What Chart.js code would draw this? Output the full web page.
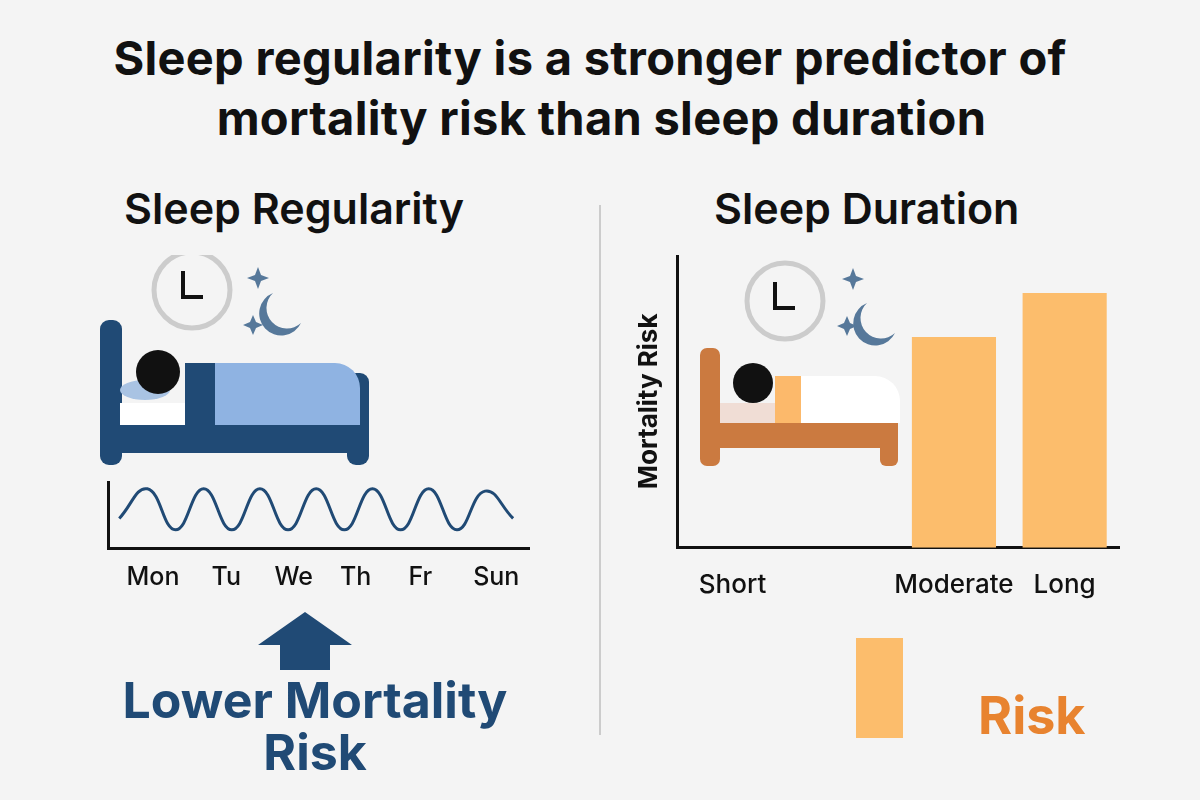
<!DOCTYPE html>
<html>
<head>
<meta charset="utf-8">
<script src="https://cdn.jsdelivr.net/npm/chart.js@4.4.1/dist/chart.umd.min.js"></script>
<style>
  body { margin:0; width:1200px; height:800px; background:#f4f4f4; font-family:'Inter','Roboto',sans-serif; position:relative; overflow:hidden; }
  .abs { position:absolute; }
  h1 { position:absolute; top:28px; left:0; width:1180px; margin:0; text-align:center; font-size:47px; font-weight:700; line-height:60px; color:#111; letter-spacing:0.3px; }
  h2 { position:absolute; margin:0; font-size:43px; font-weight:600; color:#111; }
</style>
</head>
<body>
<h1>Sleep regularity is a stronger predictor of<br>&nbsp;&nbsp;mortality risk than sleep duration</h1>
<h2 style="left:124px;top:182px">Sleep Regularity</h2>
<h2 style="left:714px;top:182px">Sleep Duration</h2>
<div class="abs" style="left:599px;top:205px;width:2px;height:530px;background:#ccc"></div>

<!-- left icons -->
<svg class="abs" style="left:95px;top:255px" width="310" height="215">
  <circle cx="97" cy="35" r="38" fill="#f4f4f4" stroke="#ccc" stroke-width="5"/>
  <path d="M88 16 V42 H108" stroke="#111" stroke-width="4" fill="none"/>
  <path d="M178 38 a22 22 0 1 0 28 30 a18 18 0 1 1 -28 -30z" fill="#56789a"/>
  <path d="M163 12 l3 8 8 3 -8 3 -3 8 -3 -8 -8 -3 8 -3z" fill="#56789a"/>
  <path d="M158 60 l3 7 7 3 -7 3 -3 7 -3 -7 -7 -3 7 -3z" fill="#56789a"/>
  <rect x="5" y="65" width="22" height="145" rx="9" fill="#204a75"/>
  <rect x="252" y="118" width="22" height="92" rx="9" fill="#204a75"/>
  <rect x="5" y="168" width="268" height="30" fill="#204a75"/>
  <rect x="90" y="108" width="30" height="62" fill="#204a75"/>
  <path d="M120 108 H240 a25 25 0 0 1 25 25 V170 H120z" fill="#8fb3e2"/>
  <rect x="25" y="148" width="65" height="22" fill="#fff"/>
  <ellipse cx="50" cy="135" rx="25" ry="10" fill="#a9c3e3"/>
  <circle cx="63" cy="117" r="22" fill="#111"/>
</svg>
<div class="abs" style="left:100px;top:478px;width:430px;height:120px"><canvas id="wave"></canvas></div>

<svg class="abs" style="left:258px;top:610px" width="95" height="60">
  <path d="M47 2 L94 35 H72 V60 H22 V35 H0z" fill="#204a75"/>
</svg>
<div class="abs" style="left:90px;top:674px;width:450px;text-align:center;font-size:50px;font-weight:700;color:#204a75;line-height:52px">Lower Mortality<br>Risk</div>

<!-- right chart -->
<div class="abs" style="left:630px;top:255px;width:490px;height:360px"><canvas id="bars"></canvas></div>
<svg class="abs" style="left:695px;top:258px" width="215" height="210">
  <circle cx="90" cy="43" r="38" fill="#f4f4f4" stroke="#ccc" stroke-width="5"/>
  <path d="M80 24 V50 H100" stroke="#111" stroke-width="4" fill="none"/>
  <path d="M172 45 a22 22 0 1 0 28 30 a18 18 0 1 1 -28 -30z" fill="#56789a"/>
  <path d="M158 10 l3 8 8 3 -8 3 -3 8 -3 -8 -8 -3 8 -3z" fill="#56789a"/>
  <path d="M152 58 l3 7 7 3 -7 3 -3 7 -3 -7 -7 -3 7 -3z" fill="#56789a"/>
  <rect x="5" y="90" width="20" height="118" rx="7" fill="#cb7a40"/>
  <rect x="185" y="155" width="18" height="53" rx="6" fill="#cb7a40"/>
  <rect x="5" y="165" width="198" height="25" fill="#cb7a40"/>
  <path d="M80 118 H180 a25 25 0 0 1 25 25 V165 H80z" fill="#fff"/>
  <rect x="80" y="118" width="26" height="47" fill="#fcb96b"/>
  <rect x="25" y="145" width="55" height="20" fill="#f0ddd5"/>
  <circle cx="58" cy="125" r="20" fill="#111"/>
</svg>
<div class="abs" style="left:856px;top:638px;width:47px;height:100px;background:#fcbd6c"></div>
<div class="abs" style="left:978px;top:684px;font-size:52px;font-weight:700;color:#e8832f">Risk</div>

<script>
// wave over the week
const waveX = [0, 0.5, 1, 1.5, 2, 2.5, 3, 3.5, 4, 4.5, 5, 5.5, 6, 6.5, 7];
const waveY = [0.3, 0.95, 0.05, 0.95, 0.05, 0.95, 0.05, 0.95, 0.05, 0.95, 0.05, 0.95, 0.05, 0.9, 0.3];
const dayTicks = [0.6, 1.9, 3.1, 4.2, 5.35, 6.7];
const dayLabels = ['Mon', 'Tu', 'We', 'Th', 'Fr', 'Sun'];

// duration chart
const durCats = ['Short', '', 'Moderate', 'Long'];
const durRisk = [0, 0, 72, 87];

new Chart(document.getElementById('wave'), {
    type: 'line',
    data: { datasets: [{ data: waveX.map((x, i) => ({ x: x, y: waveY[i] })),
        borderColor: '#204a75', borderWidth: 3, tension: 0.45, pointRadius: 0, fill: false }] },
    options: {
        responsive: true, maintainAspectRatio: false, animation: false,
        layout: { padding: { left: 0, right: 0, top: 4 } },
        plugins: { legend: { display: false }, tooltip: { enabled: false } },
        scales: {
            x: { type: 'linear', min: -0.2, max: 7.3,
                afterBuildTicks: ax => { ax.ticks = dayTicks.map(v => ({ value: v })); },
                ticks: { callback: (v, i) => dayLabels[i], color: '#111', font: { family: 'Inter', size: 25, weight: '500' }, padding: 6, autoSkip: false, maxRotation: 0 },
                grid: { display: false }, border: { color: '#111', width: 3 } },
            y: { min: -0.35, max: 1.1, ticks: { display: false }, grid: { display: false }, border: { color: '#111', width: 3 } }
        }
    }
});

new Chart(document.getElementById('bars'), {
    type: 'bar',
    data: { labels: durCats, datasets: [{ data: durRisk, backgroundColor: '#fcbd6c', barPercentage: 0.76, categoryPercentage: 1 }] },
    options: {
        responsive: true, maintainAspectRatio: false, animation: false,
        plugins: { legend: { display: false }, tooltip: { enabled: false } },
        scales: {
            x: { ticks: { color: '#111', font: { family: 'Inter', size: 26, weight: '500' }, padding: 14, maxRotation: 0, autoSkip: false },
                grid: { display: false }, border: { color: '#111', width: 3 } },
            y: { min: 0, max: 100, ticks: { display: false }, grid: { display: false }, border: { color: '#111', width: 3 },
                title: { display: true, text: 'Mortality Risk', color: '#111', font: { family: 'Inter', size: 26, weight: '700' } } }
        }
    }
});
</script>
</body>
</html>
